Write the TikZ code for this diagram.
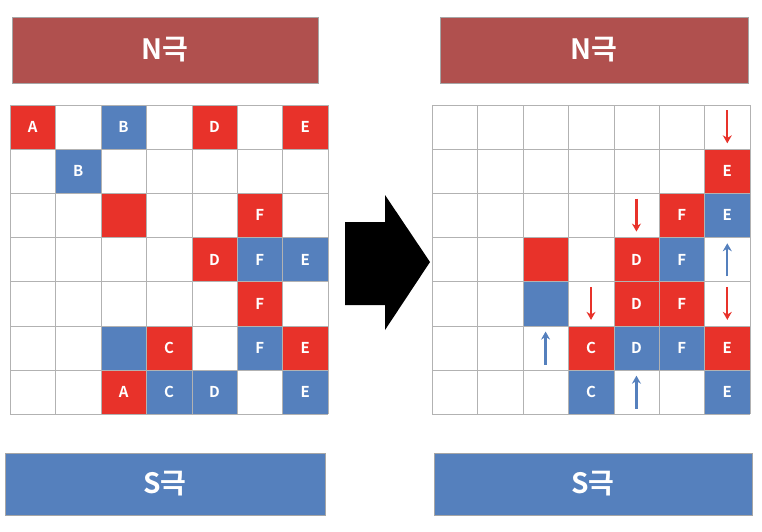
\documentclass[tikz,border=0pt]{standalone}
\usepackage{fontspec}
\newfontfamily\kr{Noto Sans CJK KR}[BoldFont={Noto Sans CJK KR Bold}]
\usetikzlibrary{arrows.meta}
\definecolor{cr}{HTML}{E8322A}
\definecolor{cb}{HTML}{5580BD}
\definecolor{ban}{HTML}{B0504E}
\begin{document}
\begin{tikzpicture}[x=1pt,y=-1pt,
 lbl/.style={text=white,font=\kr\bfseries\fontsize{15}{15}\selectfont},
 banner/.style={draw=gray!70,line width=0.8pt,text=white,font=\kr\bfseries\fontsize{28}{28}\selectfont,inner sep=0pt},
 arr/.style={line width=2.2pt,-{Stealth[length=8pt,width=9pt]}}]
\useasboundingbox (0,0) rectangle (762,531);
\def\cw{45.43}\def\ch{44.14}
\newcommand\cellx[5]{\fill[#4] ({#1+#2*\cw},{105+#3*\ch}) rectangle ++(\cw,\ch);
 \node[lbl] at ({#1+(#2+0.5)*\cw},{105+(#3+0.5)*\ch}) {#5};}
% left grid
\foreach \c/\r/\k/\t in {0/0/cr/A,2/0/cb/B,4/0/cr/D,6/0/cr/E,1/1/cb/B,2/2/cr/{},5/2/cr/F,4/3/cr/D,5/3/cb/F,6/3/cb/E,5/4/cr/F,2/5/cb/{},3/5/cr/C,5/5/cb/F,6/5/cr/E,2/6/cr/A,3/6/cb/C,4/6/cb/D,6/6/cb/E}
 {\cellx{10}{\c}{\r}{\k}{\t}}
\foreach \i in {0,...,7}{\draw[gray!60] ({10+\i*\cw},105) -- ({10+\i*\cw},414);
 \draw[gray!60] (10,{105+\i*\ch}) -- (328,{105+\i*\ch});}
% right grid
\foreach \c/\r/\k/\t in {6/1/cr/E,5/2/cr/F,6/2/cb/E,2/3/cr/{},4/3/cr/D,5/3/cb/F,2/4/cb/{},4/4/cr/D,5/4/cr/F,3/5/cr/C,4/5/cb/D,5/5/cb/F,6/5/cr/E,3/6/cb/C,6/6/cb/E}
 {\cellx{432}{\c}{\r}{\k}{\t}}
\foreach \i in {0,...,7}{\draw[gray!60] ({432+\i*\cw},105) -- ({432+\i*\cw},414);
 \draw[gray!60] (432,{105+\i*\ch}) -- (750,{105+\i*\ch});}
% arrows in right grid
\foreach \c/\r in {6/0,4/2,3/4,6/4}
 \draw[arr,cr] ({432+(\c+0.5)*\cw},{105+(\r+0.12)*\ch}) coordinate (s\c\r) -- ++(0,33);
\foreach \c/\r in {6/3,2/5,4/6}
 \draw[arr,cb] ({432+(\c+0.5)*\cw},{105+(\r+0.88)*\ch}) coordinate (u\c\r) -- ++(0,-33);
% big arrow
\fill[black] (345,222) -- (385,222) -- (385,195) -- (430,262) -- (385,330) -- (385,305) -- (345,305) -- cycle;
% banners
\node[banner,fill=ban,minimum width=306,minimum height=66] (n1) at (165,50) {N극};
\node[banner,fill=ban,minimum width=308,minimum height=66] (n2) at (594,50) {N극};
\node[banner,fill=cb,minimum width=320,minimum height=62] (s1) at (165,484) {S극};
\node[banner,fill=cb,minimum width=318,minimum height=62] (s2) at (593,484) {S극};
\end{tikzpicture}
\end{document}
